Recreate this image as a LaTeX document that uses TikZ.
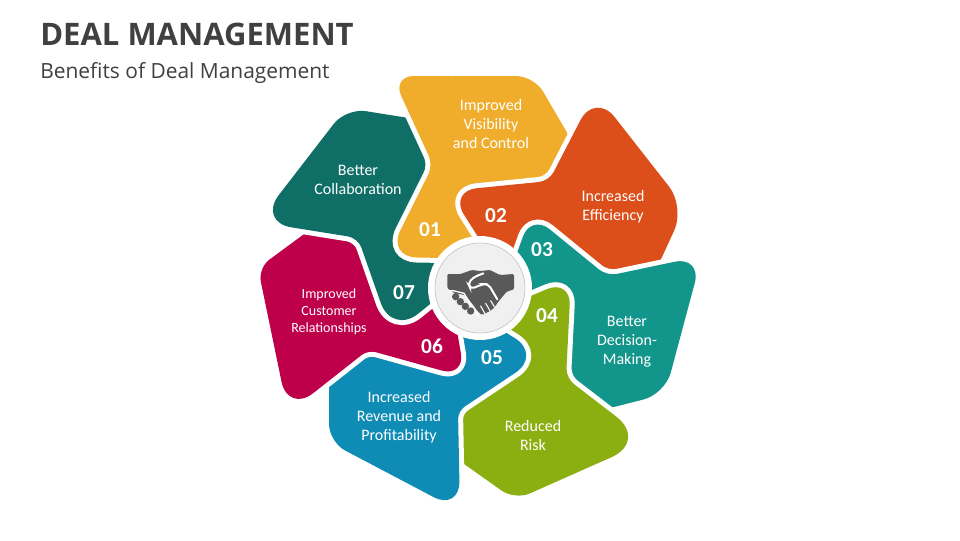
\documentclass[tikz,border=0pt]{standalone}
\usepackage{fontspec}
\setmainfont{Carlito}
\newfontfamily\headfont{Open Sans}
\definecolor{cyellow}{HTML}{F0AD2B}
\definecolor{corange}{HTML}{DC4E1A}
\definecolor{cteal}{HTML}{12958A}
\definecolor{cgreen}{HTML}{8BAF11}
\definecolor{cblue}{HTML}{0F8CB5}
\definecolor{cred}{HTML}{BE004A}
\definecolor{cdark}{HTML}{0F6E66}
\definecolor{cicon}{HTML}{595959}
\definecolor{chead}{HTML}{404040}
\tikzset{
  petal/.style={fill=#1,preaction={draw=white,line width=7.5pt,line join=round}},
  lbl/.style={text=white,align=center,font=\fontsize{12}{14.25}\selectfont,inner sep=0pt},
  lblsmall/.style={text=white,align=center,font=\fontsize{10.5}{12.6}\selectfont,inner sep=0pt},
  num/.style={text=white,font=\fontsize{16}{18}\selectfont\bfseries,inner sep=0pt},
  R/.style={rounded corners=#1*0.75pt}
}
\newcommand{\yellowpetal}{%
  (445,258) [R=30] -- (387,257) [R=10] -- (433,165) [R=22] -- (392,76) [R=18] -- (534,76) [R=4] -- (569,136) [sharp corners] -- (540,200) -- (480,230) -- cycle}
\begin{document}
\begin{tikzpicture}[x=0.75pt,y=-0.75pt]
\useasboundingbox (0,0) rectangle (960,540);
\fill[white] (0,0) rectangle (960,540);
\node[anchor=west,inner sep=0pt,text=chead,font=\headfont\bfseries\fontsize{23.25}{28}\selectfont] (title) at (40,34.5) {DEAL MANAGEMENT};
\node[anchor=west,inner sep=0pt,text=chead,font=\headfont\fontsize{15.7}{18}\selectfont] (subtitle) at (40,73.5) {Benefits of Deal Management};
% petals
\path[petal=cyellow] \yellowpetal;
\path[petal=corange] (500,262) -- (480,240) [R=28] -- (449,191) [R=10] -- (549,181) [R=32] -- (595,92) [R=26] -- (685,207) [R=10] -- (657,268) [sharp corners] -- (600,285) -- cycle;
\path[petal=cteal] (500,320) -- (516,256) [R=24] -- (531,214) [R=10] -- (607,276) [R=28] -- (702,256) [R=22] -- (665,394) [sharp corners] -- (610,408) -- (560,420) -- cycle;
\path[petal=cgreen] (500,310) -- (533,295) [R=26] -- (571,279) [R=10] -- (566,378) [R=40] -- (648,441) [R=16] -- (515,500) [sharp corners] -- (440,447) -- (460,400) -- cycle;
\path[petal=cblue] (470,320) -- (505,332) [R=32] -- (542,355) [R=8] -- (458,411) [R=30] -- (460,511) [R=18] -- (329,442) [sharp corners] -- (329,370) -- (400,340) -- cycle;
\path[petal=cred] (456,325) [R=24] -- (465,377) [R=8] -- (368,350) [R=32] -- (288,413) [R=14] -- (258,268) [sharp corners] -- (330,215) -- (375,240) -- (420,290) -- cycle;
\path[petal=cdark] (435,300) -- (440,260) -- (440,170) -- (415,119) [R=20] -- (346,108) [R=34] -- (258,222) [R=10] -- (358,238) [R=34] -- (392,335) [sharp corners] -- cycle;
% the yellow petal lies over the dark one
\begin{scope}
  \clip (300,50) rectangle (452,262);
  \path[petal=cyellow] \yellowpetal;
\end{scope}
% hub
\node[circle,fill=white,minimum size=78pt,inner sep=0pt] (hubring) at (480,288) {};
\node[circle,fill=black!6,draw=black!20,line width=0.6pt,minimum size=67.5pt,inner sep=0pt] (hub) at (480,288) {};
% handshake icon
\begin{scope}[shift={(440,260)},x=0.25pt,y=-0.25pt]
  \fill[cicon,rounded corners=1pt] (22,42) -- (62,42) -- (95,30) -- (120,33) -- (150,30) -- (180,45) -- (222,42) -- (222,88) -- (200,95) -- (175,125) -- (165,140) -- (155,150) -- (140,158) -- (125,165) -- (110,150) -- (100,135) -- (75,105) -- (45,100) -- (30,90) -- (22,85) -- cycle;
  \draw[white,line width=1.5pt,rounded corners=3pt,line cap=round] (130,40) -- (100,52) -- (84,70) -- (92,87) -- (130,72) -- (145,72) -- (172,118);
  \draw[white,line width=0.8pt,line cap=round] (122,138) -- (134,160) (137,130) -- (150,152) (152,122) -- (163,140);
  \draw[white,line width=1pt] (26,92) -- (40,92) -- (72,100) -- (115,170);
  \foreach \kx/\ky in {47/110,61/125,76/139,92/153}
    \fill[cicon] (\kx,\ky) circle[radius=11];
\end{scope}
% labels
\node[lbl] (t1) at (491,123.5) {Improved\\Visibility\\and Control};
\node[lbl] (t2) at (613,206.5) {Increased\\Efficiency};
\node[lbl] (t3) at (627,342) {Better\\Decision-\\Making};
\node[lbl] (t4) at (533,435.5) {Reduced\\Risk};
\node[lbl] (t5) at (399,417) {Increased\\Revenue and\\Profitability};
\node[lblsmall] (t6) at (329,311.5) {Improved\\Customer\\Relationships};
\node[lbl] (t7) at (358,179.5) {Better\\Collaboration};
\node[num] (n1) at (430,230) {01};
\node[num] (n2) at (496,216) {02};
\node[num] (n3) at (542,250) {03};
\node[num] (n4) at (547,316) {04};
\node[num] (n5) at (492,358) {05};
\node[num] (n6) at (432,346) {06};
\node[num] (n7) at (404,293) {07};
\end{tikzpicture}
\end{document}
